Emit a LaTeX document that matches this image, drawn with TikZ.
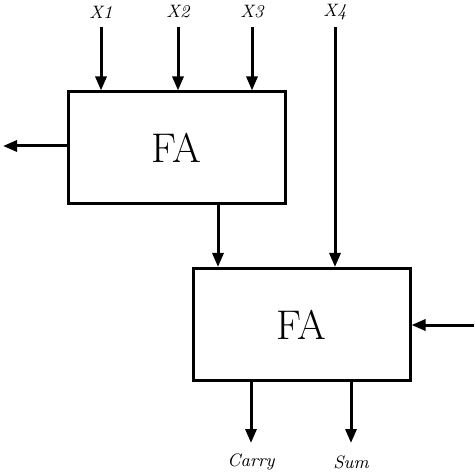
\documentclass[tikz,border=0pt]{standalone}
\usetikzlibrary{arrows.meta}
\begin{document}
\begin{tikzpicture}[x=0.5pt,y=-0.5pt,
  fabox/.style={draw,line width=1.5pt,minimum width=108.5pt,minimum height=56pt,inner sep=0pt,font=\huge},
  conn/.style={line width=1.5pt,-{Triangle[length=7pt,width=5.5pt]}},
  lbl/.style={font=\small\itshape,inner sep=0pt}]
\useasboundingbox (0,0) rectangle (474,474);
\node[fabox] (fa1) at (176.5,148) {FA};
\node[fabox] (fa2) at (301.5,324.5) {FA};
\node[lbl] (x1) at (101,12) {X1};
\node[lbl] (x2) at (178,12) {X2};
\node[lbl] (x3) at (252,12) {X3};
\node[lbl] (x4) at (335,12) {X4};
\coordinate (x1s) at (101,27);
\coordinate (x2s) at (178,27);
\coordinate (x3s) at (252,27);
\coordinate (x4s) at (335,27);
\coordinate (cout) at (3,146);
\coordinate (cin) at (474,325);
\coordinate (ce) at (251,443);
\coordinate (se) at (351,443);
\node[lbl] (carry) at (251,462) {Carry};
\node[lbl] (sum) at (351,462) {Sum};
\draw[conn] (x1s) -- (x1s |- fa1.north);
\draw[conn] (x2s) -- (x2s |- fa1.north);
\draw[conn] (x3s) -- (x3s |- fa1.north);
\draw[conn] (x4s) -- (x4s |- fa2.north);
\draw[conn] (fa1.west |- cout) -- (cout);
\draw[conn] (fa1.south -| 218,0) -- (fa2.north -| 218,0);
\draw[conn] (cin) -- (fa2.east |- cin);
\draw[conn] (fa2.south -| ce) -- (ce);
\draw[conn] (fa2.south -| se) -- (se);
\end{tikzpicture}
\end{document}
